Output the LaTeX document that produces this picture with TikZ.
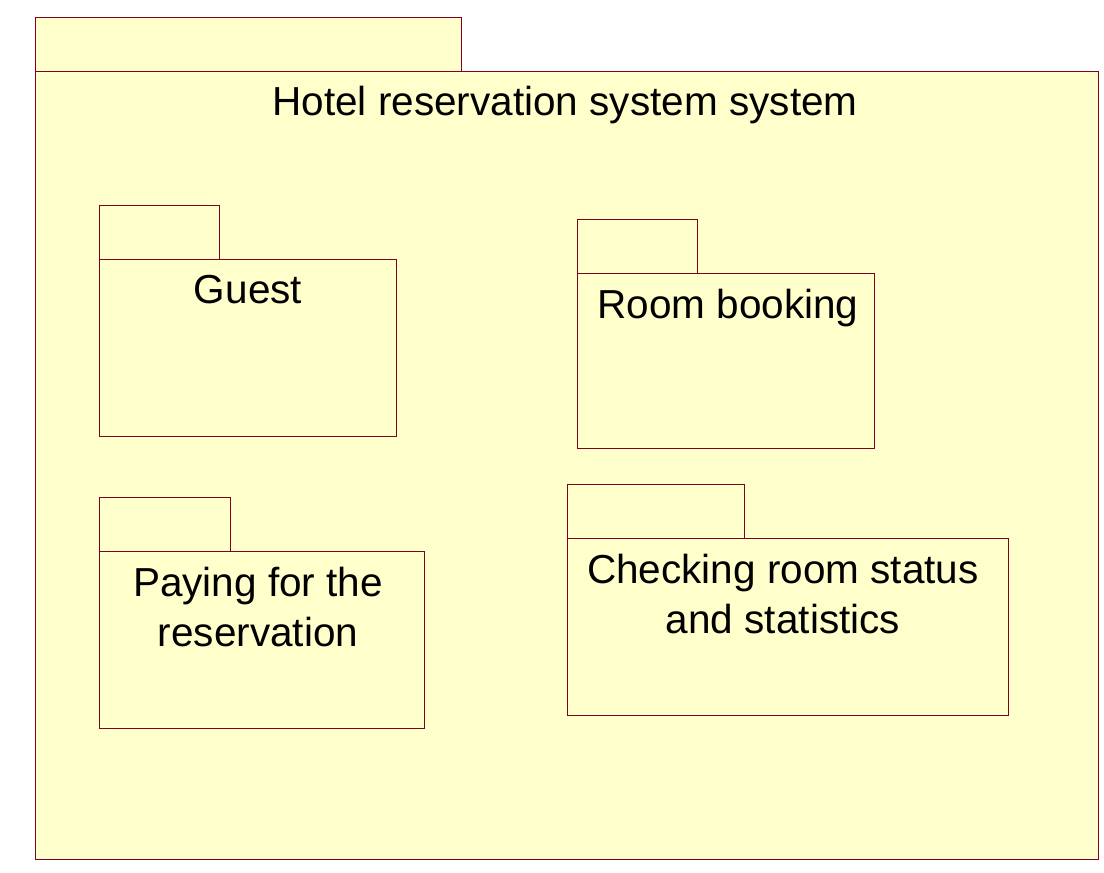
\documentclass[tikz,border=0pt]{standalone}
\usepackage{fontspec}
\setmainfont{Liberation Sans}
\usepackage{tikz}
\usetikzlibrary{positioning}
\definecolor{pkgfill}{HTML}{FFFFCC}
\definecolor{pkgline}{HTML}{800020}

\begin{document}
\begin{tikzpicture}
  [x=1pt,y=-1pt,pkg/.style={draw=pkgline,fill=pkgfill,line width=1pt},
   every node/.style={inner sep=0pt,anchor=base,align=center,font=\fontsize{40.5}{50}\selectfont}]
  \useasboundingbox (0,0) rectangle (1104,873);
  % outer package
  \draw[pkg] (35,17) rectangle (461,71);
  \draw[pkg] (35,71) rectangle (1098,859);
  \node (sys) at (565,115) {Hotel reservation system system};

  % inner packages
  \draw[pkg] (99,205) rectangle (219,259);
  \draw[pkg] (99,259) rectangle (396,436);
  \node (guest) at (248,303) {Guest};

  \draw[pkg] (577,219) rectangle (697,273);
  \draw[pkg] (577,273) rectangle (874,448);
  \node (booking) at (728,318) {Room booking};

  \draw[pkg] (99,497) rectangle (230,551);
  \draw[pkg] (99,551) rectangle (424,728);
  \node (paying) at (258,646) {Paying for the\\ reservation};

  \draw[pkg] (567,484) rectangle (744,538);
  \draw[pkg] (567,538) rectangle (1008,715);
  \node (status) at (783,633) {Checking room status\\ and statistics};
\end{tikzpicture}
\end{document}
